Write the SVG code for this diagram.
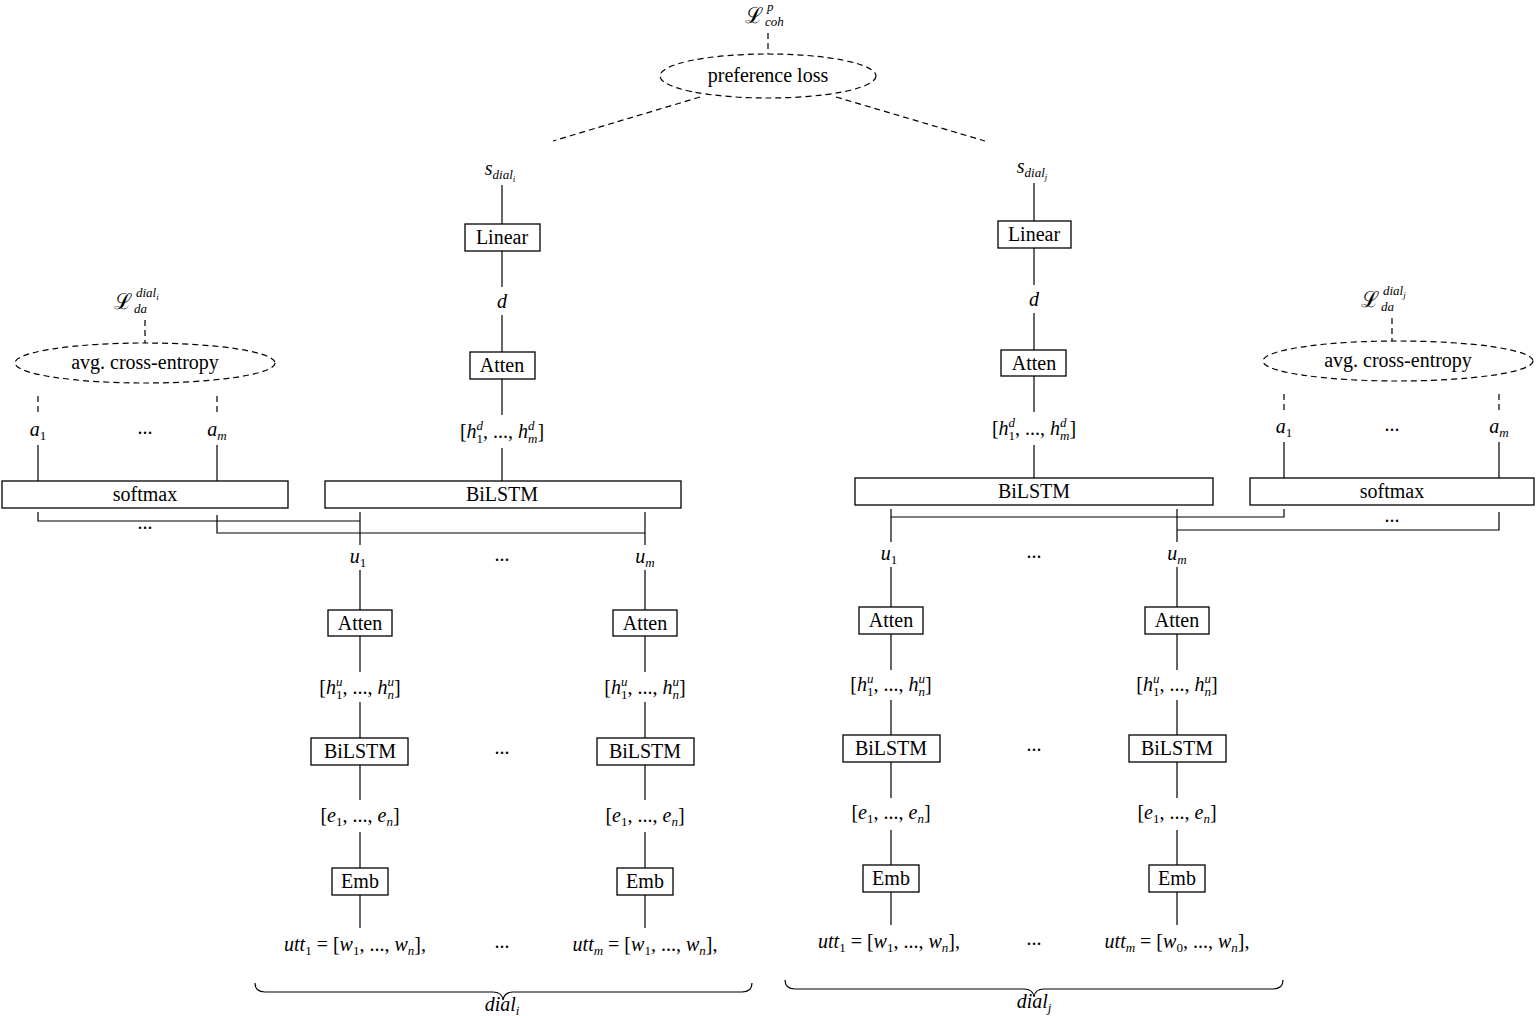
<svg xmlns="http://www.w3.org/2000/svg" width="1537" height="1016" viewBox="0 0 1537 1016">
<style>
text{font-family:"Liberation Serif","DejaVu Serif",serif;font-size:20px;text-anchor:middle;fill:#000}
.m{font-style:italic}
.s{font-size:13px}
.l{text-anchor:start}
.L{font-family:"DejaVu Serif",serif;font-size:22px;font-style:normal}
rect{fill:#fff;stroke:#000;stroke-width:1.3}
line,path{stroke:#000;stroke-width:1.2;fill:none}
.d{stroke-dasharray:6,4}
ellipse{fill:none;stroke:#000;stroke-width:1.2;stroke-dasharray:6,4}
</style>
<rect x="0" y="0" width="1537" height="1016" style="fill:#fff;stroke:none"/>
<g id="connectors">
<line class="d" x1="768" y1="33" x2="768" y2="54"/>
<line class="d" x1="700" y1="97" x2="553" y2="141"/>
<line class="d" x1="836" y1="97" x2="985" y2="141"/>
<line x1="502" y1="185" x2="502" y2="224"/><line x1="502" y1="251" x2="502" y2="287"/>
<line x1="502" y1="315" x2="502" y2="352"/><line x1="502" y1="379" x2="502" y2="415"/>
<line x1="502" y1="448" x2="502" y2="481"/>
<line class="d" x1="145" y1="320" x2="145" y2="343"/>
<line class="d" x1="38" y1="396" x2="38" y2="416"/><line class="d" x1="217" y1="396" x2="217" y2="416"/>
<line x1="38" y1="445" x2="38" y2="481"/><line x1="217" y1="445" x2="217" y2="481"/>
<path d="M38 512V521H360"/><path d="M217 515V533H645"/>
<line x1="360" y1="512" x2="360" y2="545"/><line x1="645" y1="512" x2="645" y2="545"/>
<line x1="1034" y1="183" x2="1034" y2="221"/><line x1="1034" y1="248" x2="1034" y2="285"/>
<line x1="1034" y1="313" x2="1034" y2="350"/><line x1="1034" y1="376" x2="1034" y2="412"/>
<line x1="1034" y1="445" x2="1034" y2="478"/>
<line class="d" x1="1392" y1="318" x2="1392" y2="341"/>
<line class="d" x1="1284" y1="394" x2="1284" y2="413"/><line class="d" x1="1499" y1="394" x2="1499" y2="413"/>
<line x1="1284" y1="442" x2="1284" y2="478"/><line x1="1499" y1="442" x2="1499" y2="478"/>
<path d="M1284 509V517H891"/><path d="M1499 512V530H1177"/>
<line x1="891" y1="509" x2="891" y2="542"/><line x1="1177" y1="509" x2="1177" y2="542"/>
<path d="M360 570V610M360 636V672M360 702V738M360 765V800M360 832V868M360 895V928"/>
<path d="M645 570V610M645 636V672M645 702V738M645 765V800M645 832V868M645 895V928"/>
<path d="M891 567V607M891 634V670M891 700V735M891 762V798M891 830V865M891 892V925"/>
<path d="M1177 567V607M1177 634V670M1177 700V735M1177 762V798M1177 830V865M1177 892V925"/>
<path d="M255 983Q255 992 265 992H493Q502 992 503 1000Q504 992 513 992H742Q752 992 752 983"/>
<path d="M785 980Q785 989 795 989H1024Q1033 989 1034 997Q1035 989 1044 989H1273Q1283 989 1283 980"/>
</g>
<g id="top">
<text x="745" y="23" class="L l">ℒ</text><text x="767" y="11" class="s m l">p</text><text x="765" y="26" class="s m l">coh</text>
<ellipse cx="768" cy="76" rx="108" ry="22"/><text x="768" y="82">preference loss</text></g>
<g id="leftHead">
<text x="500" y="175" class="m">s<tspan class="s" dy="4">dial</tspan><tspan font-size="9" dy="3">i</tspan></text>
<rect x="465" y="224" width="75" height="27"/><text x="502" y="244">Linear</text>
<text x="502" y="308" class="m">d</text>
<rect x="470" y="352" width="65" height="27"/><text x="502" y="372">Atten</text>
<text x="502" y="438">[<tspan class="m">h</tspan><tspan class="s m" dy="-8">d</tspan><tspan class="s" dx="-6.5" dy="13">1</tspan><tspan dy="-5">, ..., </tspan><tspan class="m">h</tspan><tspan class="s m" dy="-8">d</tspan><tspan class="s m" dx="-6.5" dy="13">m</tspan><tspan dy="-5">]</tspan></text>
<rect x="325" y="481" width="356" height="27"/><text x="502" y="501">BiLSTM</text>
<rect x="2" y="481" width="286" height="27"/><text x="145" y="501">softmax</text>
<text x="114" y="309" class="L l">ℒ</text><text x="136" y="297" class="s m l">dial<tspan font-size="9" dy="3">i</tspan></text><text x="134" y="313" class="s m l">da</text>
<ellipse cx="145" cy="363" rx="130" ry="20"/><text x="145" y="369">avg. cross-entropy</text>
<text x="38" y="436" class="m">a<tspan class="s" font-style="normal" dy="4">1</tspan></text>
<text x="145" y="434">...</text>
<text x="217" y="436" class="m">a<tspan class="s" dy="4">m</tspan></text>
<text x="145" y="529">...</text>
</g>
<g id="rightHead">
<text x="1032" y="173" class="m">s<tspan class="s" dy="4">dial</tspan><tspan font-size="9" dy="3">j</tspan></text>
<rect x="998" y="221" width="73" height="27"/><text x="1034" y="241">Linear</text>
<text x="1034" y="306" class="m">d</text>
<rect x="1001" y="350" width="65" height="26"/><text x="1034" y="370">Atten</text>
<text x="1034" y="435">[<tspan class="m">h</tspan><tspan class="s m" dy="-8">d</tspan><tspan class="s" dx="-6.5" dy="13">1</tspan><tspan dy="-5">, ..., </tspan><tspan class="m">h</tspan><tspan class="s m" dy="-8">d</tspan><tspan class="s m" dx="-6.5" dy="13">m</tspan><tspan dy="-5">]</tspan></text>
<rect x="855" y="478" width="358" height="27"/><text x="1034" y="498">BiLSTM</text>
<rect x="1250" y="478" width="284" height="27"/><text x="1392" y="498">softmax</text>
<text x="1361" y="307" class="L l">ℒ</text><text x="1383" y="295" class="s m l">dial<tspan font-size="9" dy="3">j</tspan></text><text x="1381" y="311" class="s m l">da</text>
<ellipse cx="1398" cy="361" rx="135" ry="20"/><text x="1398" y="367">avg. cross-entropy</text>
<text x="1284" y="433" class="m">a<tspan class="s" font-style="normal" dy="4">1</tspan></text>
<text x="1392" y="431">...</text>
<text x="1499" y="433" class="m">a<tspan class="s" dy="4">m</tspan></text>
<text x="1392" y="522">...</text>
</g>
<g id="leftU1">
<text x="358" y="563" class="m">u<tspan class="s" font-style="normal" dy="4">1</tspan></text>
<rect x="328" y="610" width="64" height="26"/><text x="360" y="630">Atten</text>
<text x="360" y="694">[<tspan class="m">h</tspan><tspan class="s m" dy="-8">u</tspan><tspan class="s" dx="-6.5" dy="13">1</tspan><tspan dy="-5">, ..., </tspan><tspan class="m">h</tspan><tspan class="s m" dy="-8">u</tspan><tspan class="s m" dx="-6.5" dy="13">n</tspan><tspan dy="-5">]</tspan></text>
<rect x="311" y="738" width="97" height="27"/><text x="360" y="758">BiLSTM</text>
<text x="360" y="822">[<tspan class="m">e</tspan><tspan class="s" dy="4">1</tspan><tspan dy="-4">, ..., </tspan><tspan class="m">e</tspan><tspan class="s m" dy="4">n</tspan><tspan dy="-4">]</tspan></text>
<rect x="332" y="868" width="56" height="27"/><text x="360" y="888">Emb</text>
<text x="355" y="951"><tspan class="m">utt</tspan><tspan class="s" dy="4">1</tspan><tspan dy="-4"> = [</tspan><tspan class="m">w</tspan><tspan class="s" dy="4">1</tspan><tspan dy="-4">, ..., </tspan><tspan class="m">w</tspan><tspan class="s m" dy="4">n</tspan><tspan dy="-4">],</tspan></text>
</g>
<g id="leftUm">
<text x="645" y="563" class="m">u<tspan class="s" dy="4">m</tspan></text>
<rect x="613" y="610" width="64" height="26"/><text x="645" y="630">Atten</text>
<text x="645" y="694">[<tspan class="m">h</tspan><tspan class="s m" dy="-8">u</tspan><tspan class="s" dx="-6.5" dy="13">1</tspan><tspan dy="-5">, ..., </tspan><tspan class="m">h</tspan><tspan class="s m" dy="-8">u</tspan><tspan class="s m" dx="-6.5" dy="13">n</tspan><tspan dy="-5">]</tspan></text>
<rect x="597" y="738" width="97" height="27"/><text x="645" y="758">BiLSTM</text>
<text x="645" y="822">[<tspan class="m">e</tspan><tspan class="s" dy="4">1</tspan><tspan dy="-4">, ..., </tspan><tspan class="m">e</tspan><tspan class="s m" dy="4">n</tspan><tspan dy="-4">]</tspan></text>
<rect x="617" y="868" width="56" height="27"/><text x="645" y="888">Emb</text>
<text x="645" y="951"><tspan class="m">utt</tspan><tspan class="s m" dy="4">m</tspan><tspan dy="-4"> = [</tspan><tspan class="m">w</tspan><tspan class="s" dy="4">1</tspan><tspan dy="-4">, ..., </tspan><tspan class="m">w</tspan><tspan class="s m" dy="4">n</tspan><tspan dy="-4">],</tspan></text>
<text x="502" y="561">...</text><text x="502" y="754">...</text><text x="502" y="948">...</text>
<text x="502" y="1011" class="m">dial<tspan class="s" dy="4">i</tspan></text>
</g>
<g id="rightU1">
<text x="889" y="560" class="m">u<tspan class="s" font-style="normal" dy="4">1</tspan></text>
<rect x="859" y="607" width="64" height="27"/><text x="891" y="627">Atten</text>
<text x="891" y="691">[<tspan class="m">h</tspan><tspan class="s m" dy="-8">u</tspan><tspan class="s" dx="-6.5" dy="13">1</tspan><tspan dy="-5">, ..., </tspan><tspan class="m">h</tspan><tspan class="s m" dy="-8">u</tspan><tspan class="s m" dx="-6.5" dy="13">n</tspan><tspan dy="-5">]</tspan></text>
<rect x="843" y="735" width="97" height="27"/><text x="891" y="755">BiLSTM</text>
<text x="891" y="819">[<tspan class="m">e</tspan><tspan class="s" dy="4">1</tspan><tspan dy="-4">, ..., </tspan><tspan class="m">e</tspan><tspan class="s m" dy="4">n</tspan><tspan dy="-4">]</tspan></text>
<rect x="863" y="865" width="56" height="27"/><text x="891" y="885">Emb</text>
<text x="889" y="948"><tspan class="m">utt</tspan><tspan class="s" dy="4">1</tspan><tspan dy="-4"> = [</tspan><tspan class="m">w</tspan><tspan class="s" dy="4">1</tspan><tspan dy="-4">, ..., </tspan><tspan class="m">w</tspan><tspan class="s m" dy="4">n</tspan><tspan dy="-4">],</tspan></text>
</g>
<g id="rightUm">
<text x="1177" y="560" class="m">u<tspan class="s" dy="4">m</tspan></text>
<rect x="1145" y="607" width="64" height="27"/><text x="1177" y="627">Atten</text>
<text x="1177" y="691">[<tspan class="m">h</tspan><tspan class="s m" dy="-8">u</tspan><tspan class="s" dx="-6.5" dy="13">1</tspan><tspan dy="-5">, ..., </tspan><tspan class="m">h</tspan><tspan class="s m" dy="-8">u</tspan><tspan class="s m" dx="-6.5" dy="13">n</tspan><tspan dy="-5">]</tspan></text>
<rect x="1129" y="735" width="97" height="27"/><text x="1177" y="755">BiLSTM</text>
<text x="1177" y="819">[<tspan class="m">e</tspan><tspan class="s" dy="4">1</tspan><tspan dy="-4">, ..., </tspan><tspan class="m">e</tspan><tspan class="s m" dy="4">n</tspan><tspan dy="-4">]</tspan></text>
<rect x="1149" y="865" width="56" height="27"/><text x="1177" y="885">Emb</text>
<text x="1177" y="948"><tspan class="m">utt</tspan><tspan class="s m" dy="4">m</tspan><tspan dy="-4"> = [</tspan><tspan class="m">w</tspan><tspan class="s" dy="4">0</tspan><tspan dy="-4">, ..., </tspan><tspan class="m">w</tspan><tspan class="s m" dy="4">n</tspan><tspan dy="-4">],</tspan></text>
<text x="1034" y="558">...</text><text x="1034" y="751">...</text><text x="1034" y="945">...</text>
<text x="1034" y="1008" class="m">dial<tspan class="s" dy="4">j</tspan></text>
</g>
</svg>
